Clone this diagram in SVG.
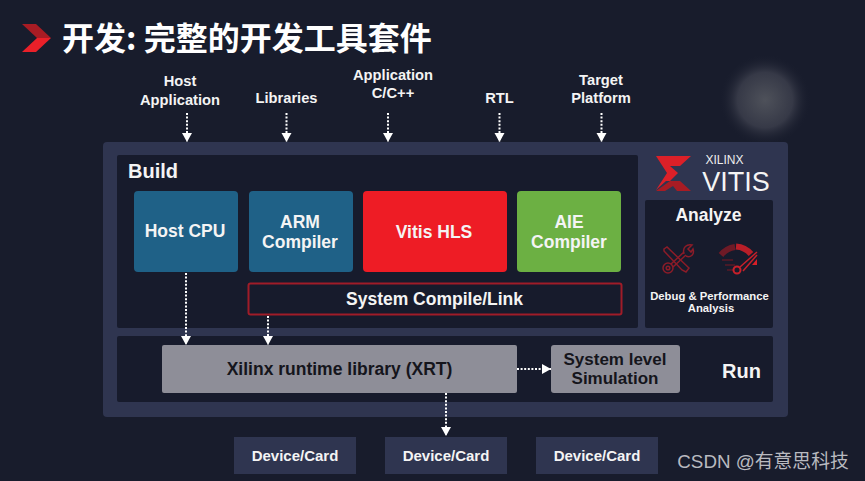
<svg xmlns="http://www.w3.org/2000/svg" width="865" height="481" viewBox="0 0 865 481">
<defs>
<radialGradient id="glow"><stop offset="0" stop-color="#4e515a"/><stop offset="0.6" stop-color="#363947"/><stop offset="1" stop-color="#181c2c" stop-opacity="0"/></radialGradient>
<marker id="ah" markerUnits="userSpaceOnUse" markerWidth="11" markerHeight="11" refX="9" refY="5.500" orient="auto"><path d="M0 0.500L9 5.500L0 10.500Z" fill="#fff"/></marker>
</defs>
<style>
text{font-family:"Liberation Sans",Arial,sans-serif;font-weight:700;fill:#f4f4f4;text-anchor:middle}
.t{font-size:14.700px}
.b{font-size:17.500px}
.d{font-size:15px}
.k{fill:#15151c}
.inner{fill:#171b2c}
.grey{fill:#8e8e98}
.dev{fill:#2f3550}
.c{fill:none;stroke:#fff;stroke-width:2;stroke-dasharray:2 1.600;marker-end:url(#ah)}
</style>
<rect width="865" height="481" fill="#181c2c"/>
<circle cx="765" cy="100" r="46" fill="url(#glow)"/>
<g id="title">
<path d="M22 24H36L51 38H37Z" fill="#a81c24"/><path d="M37 38H51L36 52H22Z" fill="#ea2029"/>
<text x="62" y="50" style="text-anchor:start;font-family:'Noto Sans CJK SC','Liberation Sans',sans-serif;font-size:32px;fill:#fff">开发: 完整的开发工具套件</text>
</g>
<g id="input-host"><text class="t" x="180" y="86">Host</text><text class="t" x="180" y="105">Application</text></g>
<g id="input-libraries"><text class="t" x="286.500" y="103">Libraries</text></g>
<g id="input-app"><text class="t" x="393" y="80">Application</text><text class="t" x="393" y="98">C/C++</text></g>
<g id="input-rtl"><text class="t" x="499.500" y="103">RTL</text></g>
<g id="input-target"><text class="t" x="601" y="85">Target</text><text class="t" x="601" y="103">Platform</text></g>
<g id="platform"><rect x="103" y="142" width="685" height="275" rx="4" fill="#2f3550"/></g>
<g id="build"><rect class="inner" x="117" y="155" width="521" height="173" rx="2"/><text x="153" y="178" style="font-size:20px">Build</text></g>
<g id="host-cpu"><rect x="134" y="191" width="104" height="81" rx="4" fill="#1f6187"/><text class="b" x="185" y="237">Host CPU</text></g>
<g id="arm"><rect x="249" y="191" width="104" height="81" rx="4" fill="#1f6187"/><text class="b" x="300" y="228">ARM</text><text class="b" x="300" y="248">Compiler</text></g>
<g id="hls"><rect x="363" y="191" width="144" height="81" rx="4" fill="#ee1c25"/><text class="b" x="434" y="238">Vitis HLS</text></g>
<g id="aie"><rect x="517" y="191" width="104" height="81" rx="4" fill="#6cb043"/><text class="b" x="569" y="228">AIE</text><text class="b" x="569" y="248">Compiler</text></g>
<g id="compile"><rect x="248.500" y="283.500" width="373" height="31" rx="2" fill="none" stroke="#a01c28" stroke-width="2"/><text class="b" x="434.500" y="305">System Compile/Link</text></g>
<g id="logo">
<path d="M656 156H691L680 166H670L678 173L670 181H666L656 190L667 173Z" fill="#dc2028"/>
<path d="M670 181H680L691 191H677L673 186L665 191H656Z" fill="#a81c24"/>
<text x="724.500" y="164" style="font-weight:400;font-size:12px;fill:#eee">XILINX</text>
<text x="736" y="190.500" style="font-weight:400;font-size:27px;fill:#f4f4f4">VITIS</text>
</g>
<g id="analyze"><rect class="inner" x="645" y="200" width="128" height="128" rx="2"/>
<text class="b" x="708.500" y="221">Analyze</text>
<g fill="none" stroke="#8c1c28" stroke-width="1.500">
<path d="M664 249L667 247L689 268L686 272L682 270L664 251Z"/>
<path d="M671 264L684 252M673 267L686 255"/><circle cx="668" cy="268" r="5"/><circle cx="668" cy="268" r="1.800"/><path d="M684 254C682 247 687 244 692 245L688 249L691 252L693 249C695 255 690 258 686 256"/>
</g>
<g fill="none">
<path d="M721 255A22 22 0 0 1 735 247" stroke="#6f1a26" stroke-width="6"/>
<path d="M736 246.500A22 22 0 0 1 751 254" stroke="#b81e28" stroke-width="6"/>
<path d="M722 260H733M725 265H735M727 270H733" stroke="#5a1a26" stroke-width="1.500"/>
<path d="M740 267L757 252M743 271L757 255" stroke="#c8202a" stroke-width="1.500"/>
<circle cx="737" cy="270" r="3.500" stroke="#c8202a" stroke-width="2"/>
</g>
<path d="M752 265H757V259Z" fill="#d81f28"/>
<text x="709.500" y="300" style="font-size:11.300px">Debug &amp; Performance</text><text x="711" y="312" style="font-size:11.300px">Analysis</text>
</g>
<g id="run"><rect class="inner" x="117" y="336" width="656" height="66" rx="2"/><text x="741.500" y="378" style="font-size:20px">Run</text></g>
<g id="xrt"><rect class="grey" x="162" y="345" width="355" height="48" rx="2"/><text class="k" x="339.500" y="375" style="font-size:17.500px">Xilinx runtime library (XRT)</text></g>
<g id="sim"><rect class="grey" x="551" y="345" width="129" height="48" rx="3"/><text class="k" x="615" y="365" style="font-size:17px">System level</text><text class="k" x="615" y="384" style="font-size:17px">Simulation</text></g>
<g id="device1"><rect class="dev" x="234" y="437" width="122" height="37"/><text class="d" x="295" y="461">Device/Card</text></g>
<g id="device2"><rect class="dev" x="385" y="437" width="122" height="37"/><text class="d" x="446" y="461">Device/Card</text></g>
<g id="device3"><rect class="dev" x="536" y="437" width="122" height="37"/><text class="d" x="597" y="461">Device/Card</text></g>
<g id="connectors">
<path class="c" d="M187 113V142"/><path class="c" d="M286.500 113V142"/><path class="c" d="M388 113V142"/><path class="c" d="M499.500 113V142"/><path class="c" d="M601.500 113V142"/>
<path class="c" d="M186 273V345"/><path class="c" d="M268 316V345"/><path class="c" d="M446 393V436"/><path class="c" d="M517 369H551"/>
</g>
<text x="763" y="468" style="font-family:'Liberation Sans','Noto Sans CJK SC',sans-serif;font-weight:400;font-size:18.800px;fill:#b9bac0">CSDN @有意思科技</text>
</svg>
